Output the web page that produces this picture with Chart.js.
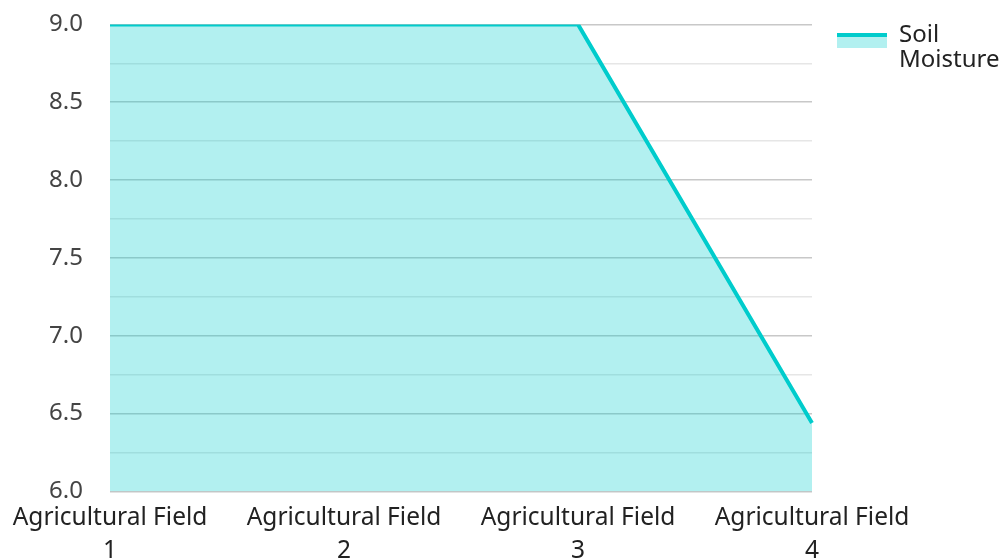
<!DOCTYPE html>
<html><head><meta charset="utf-8">
<script src="https://cdn.jsdelivr.net/npm/chart.js@4/dist/chart.umd.min.js"></script>
<style>html,body{margin:0;padding:0;background:#fff}#wrap{width:1002px;height:560px}</style>
</head><body><div id="wrap"><canvas id="c"></canvas></div>
<script>
const categories = [['Agricultural Field','1'],['Agricultural Field','2'],['Agricultural Field','3'],['Agricultural Field','4']];
const soilMoisture = [9.0, 9.0, 9.0, 6.44];
const seriesName = ['Soil', 'Moisture'];
const yMin = 6.0, yMax = 9.0, yStep = 0.25;

const FAMILY = '"Noto Sans", sans-serif';
const LINE = '#00cccc';
const FILL = 'rgba(0,204,204,0.3)';

// legend swatch: line on top of a filled band (offset inside a taller transparent canvas)
const swatch = document.createElement('canvas');
swatch.width = 50; swatch.height = 25;
(function () {
  const c = swatch.getContext('2d');
  c.fillStyle = FILL; c.fillRect(0, 10, 50, 15);
  c.fillStyle = LINE; c.fillRect(0, 10, 50, 4);
})();

const isMajor = (v) => Math.abs(v * 2 - Math.round(v * 2)) < 1e-6;

new Chart(document.getElementById('c'), {
  type: 'line',
  data: {
    labels: categories,
    datasets: [{
      label: seriesName.join(' '),
      data: soilMoisture,
      borderColor: LINE,
      backgroundColor: FILL,
      borderWidth: 4,
      fill: 'origin',
      pointRadius: 0,
      pointStyle: swatch,
      tension: 0
    }]
  },
  options: {
    responsive: true,
    maintainAspectRatio: false,
    animation: false,
    layout: { padding: { top: -1.5, right: 0, bottom: -10.5, left: 0 } },
    plugins: {
      tooltip: { enabled: false },
      legend: {
        position: 'right',
        align: 'start',
        maxWidth: 190,
        labels: {
          usePointStyle: true,
          pointStyleWidth: 50,
          boxHeight: 15,
          color: '#222',
          padding: 25,
          font: { family: FAMILY, size: 24, lineHeight: 1.04 },
          generateLabels: (chart) => {
            const items = Chart.defaults.plugins.legend.labels.generateLabels(chart);
            items.forEach(it => { it.text = seriesName; it.pointStyle = swatch; });
            return items;
          }
        }
      }
    },
    scales: {
      x: {
        offset: false,
        grid: { display: false, tickLength: 8 },
        border: { display: false },
        ticks: { maxRotation: 0, autoSkip: false, color: '#222', padding: 2.5,
                 font: { family: FAMILY, size: 24.5, lineHeight: 1.347 } }
      },
      y: {
        min: yMin, max: yMax,
        border: { display: false },
        afterFit: (scale) => { scale.width = Math.max(scale.width, 110); },
        grid: {
          color: (ctx) => (ctx.tick && isMajor(ctx.tick.value)) ? '#c8c8c8' : '#e6e6e6',
          lineWidth: 1.5,
          tickLength: 17,
          tickColor: 'rgba(0,0,0,0)'
        },
        ticks: {
          stepSize: yStep,
          padding: 10,
          color: '#444',
          font: { family: FAMILY, size: 24 },
          callback: (v) => isMajor(v) ? v.toFixed(1) : ''
        }
      }
    }
  }
});
</script></body></html>
